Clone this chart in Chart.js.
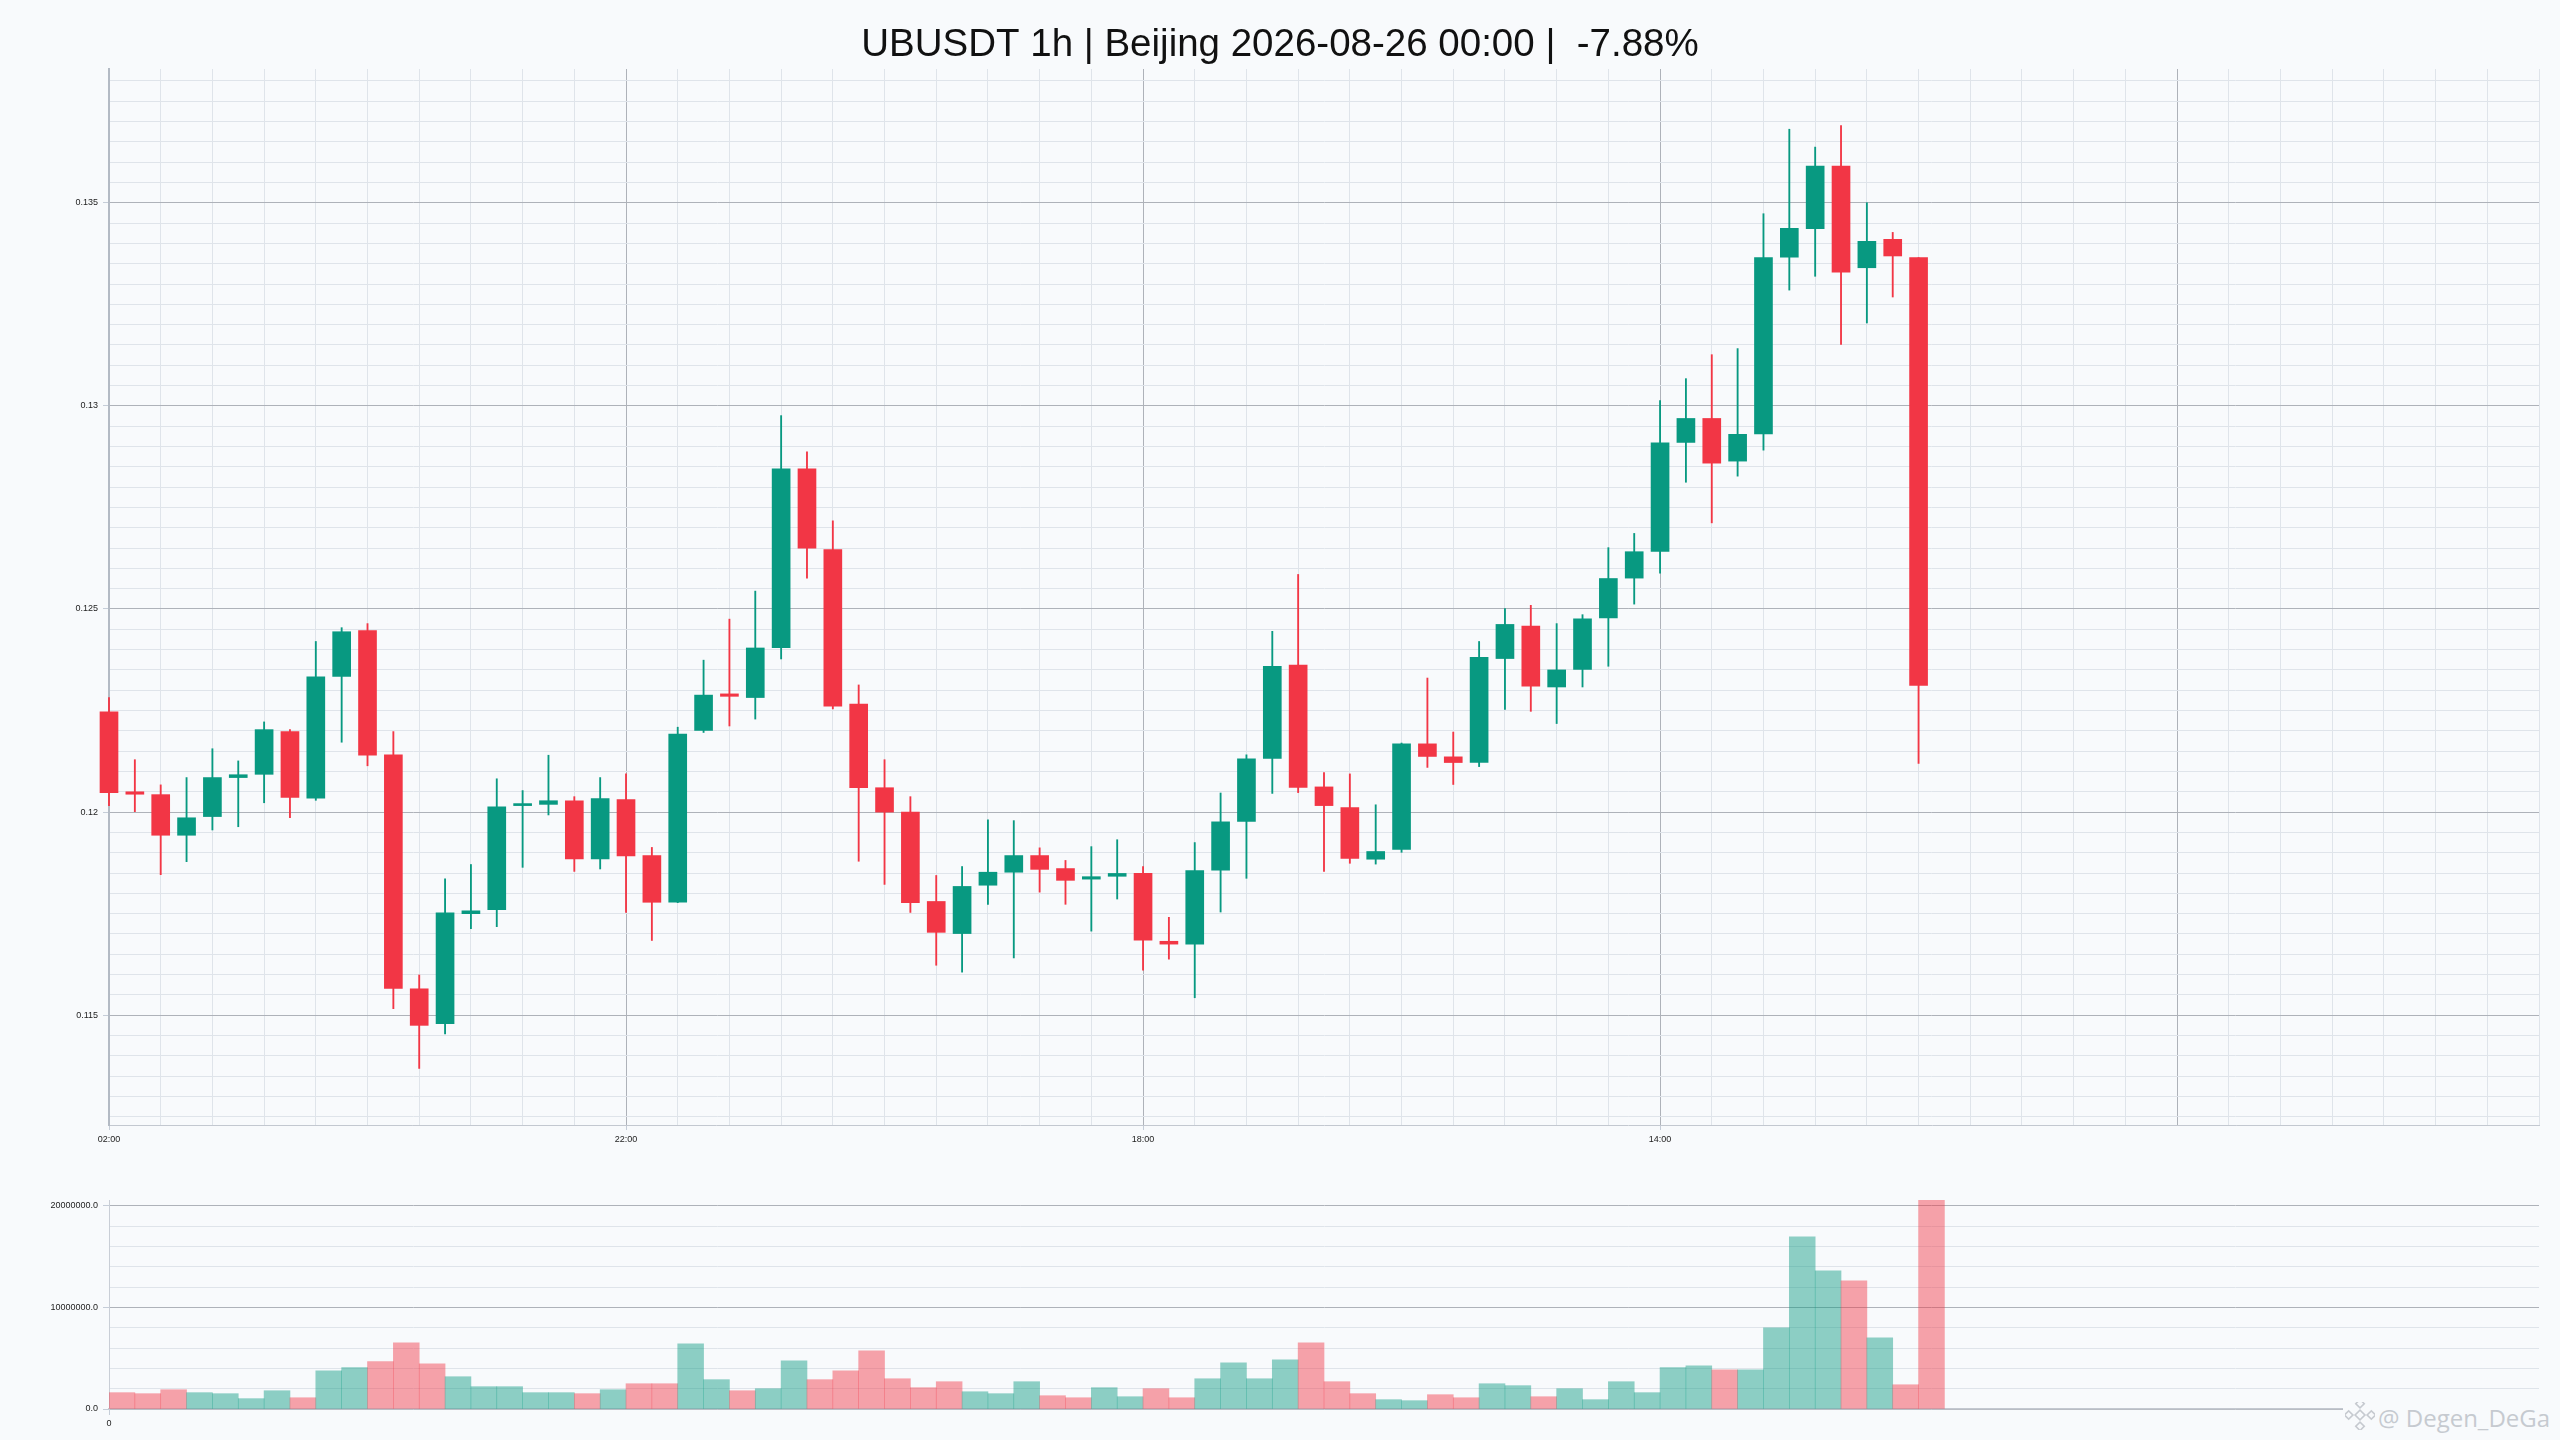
<!DOCTYPE html>
<html>
<head>
<meta charset="utf-8">
<script src="https://cdn.jsdelivr.net/npm/chart.js@4.4.1/dist/chart.umd.min.js"></script>
<style>
  html, body { margin:0; padding:0; background:#f8fafc; width:2560px; height:1440px; overflow:hidden; }
  #priceCanvas { position:absolute; left:0; top:0; }
  #volCanvas { position:absolute; left:0; top:1170px; }
  #wm { position:absolute; left:2343px; top:1402px; width:217px; height:38px; background:#f8fafc; overflow:hidden; white-space:nowrap; }
  #wm svg { position:absolute; left:2px; top:-2px; }
  #wm span { position:absolute; left:35px; top:1px; font-family:"Open Sans", "DejaVu Sans", sans-serif; font-size:24px; color:#c6cad0; line-height:30px; }
</style>
</head>
<body>
<canvas id="priceCanvas" width="2560" height="1160"></canvas>
<canvas id="volCanvas" width="2560" height="270"></canvas>
<div id="wm">
  <svg width="30" height="30" viewBox="0 0 30 30">
    <g fill="none" stroke="#c6cad0" stroke-width="1.6" transform="rotate(45 15 15)">
      <rect x="11.5" y="11.5" width="7" height="7"/>
      <rect x="4" y="4" width="6" height="6"/>
      <rect x="20" y="20" width="6" height="6"/>
      <rect x="20" y="4" width="6" height="6"/>
      <rect x="4" y="20" width="6" height="6"/>
    </g>
  </svg>
  <span>@ Degen_DeGa</span>
</div>
<script>
// ---------------- data ----------------
const TITLE = 'UBUSDT 1h | Beijing 2026-08-26 00:00 |  -7.88%';

const open = [
  0.12247,0.1205,0.12043,0.11943,0.11989,0.12085,0.12093,0.12198,0.12034,0.12334,
  0.12447,0.12141,0.11565,0.11479,0.1175,0.1176,0.12016,0.12019,0.12028,0.11885,
  0.12031,0.11893,0.11778,0.12201,0.12291,0.12282,0.12405,0.12845,0.12646,0.12266,
  0.1206,0.12,0.1178,0.11701,0.1182,0.11852,0.11893,0.11861,0.11835,0.11842,
  0.11849,0.11682,0.11675,0.11857,0.11977,0.12132,0.12362,0.12062,0.12011,0.11884,
  0.11908,0.12168,0.12136,0.12122,0.12378,0.12458,0.12308,0.12351,0.12478,0.12576,
  0.12642,0.1291,0.12969,0.12864,0.12931,0.13366,0.13436,0.1359,0.1334,0.1341,
  0.13365
];
const high = [
  0.12282,0.12129,0.12067,0.12085,0.12156,0.12126,0.12222,0.12203,0.1242,0.12454,
  0.12464,0.12198,0.11599,0.11836,0.11871,0.12082,0.12053,0.1214,0.12038,0.12085,
  0.12094,0.11913,0.12209,0.12374,0.12475,0.12544,0.12976,0.12887,0.12717,0.12313,
  0.12129,0.12038,0.11844,0.11866,0.11981,0.11979,0.11912,0.11881,0.11915,0.11932,
  0.11866,0.11741,0.11925,0.12047,0.12141,0.12445,0.12585,0.12097,0.12094,0.12018,
  0.1217,0.1233,0.12197,0.1242,0.12501,0.12509,0.12464,0.12486,0.12651,0.12686,
  0.13013,0.13067,0.13126,0.13141,0.13473,0.13681,0.13637,0.1369,0.135,0.13427,
  0.13365
];
const low = [
  0.12016,0.12001,0.11846,0.11878,0.11956,0.11964,0.12023,0.11986,0.12029,0.12172,
  0.12114,0.11516,0.11369,0.11454,0.11713,0.11718,0.11864,0.11993,0.11854,0.1186,
  0.11753,0.11684,0.11777,0.12196,0.12212,0.12229,0.12377,0.12576,0.12254,0.11879,
  0.11822,0.11753,0.11623,0.11606,0.11773,0.11641,0.11803,0.11773,0.11707,0.11786,
  0.11611,0.11638,0.11543,0.11754,0.11837,0.12046,0.12048,0.11854,0.11874,0.11872,
  0.11901,0.1211,0.12068,0.12112,0.12253,0.12248,0.12218,0.12308,0.12359,0.12512,
  0.12588,0.12812,0.12712,0.12827,0.12891,0.13285,0.13319,0.13151,0.13204,0.13268,
  0.1212
];
const close = [
  0.12048,0.12044,0.11943,0.11986,0.12085,0.12092,0.12203,0.12036,0.12333,0.12444,
  0.1214,0.11566,0.11475,0.11752,0.11757,0.12013,0.12019,0.12028,0.11885,0.12033,
  0.11892,0.11778,0.12192,0.12288,0.12285,0.12404,0.12845,0.1265,0.12261,0.1206,
  0.12,0.11777,0.11704,0.11817,0.11852,0.11893,0.11859,0.11832,0.11841,0.11849,
  0.11685,0.11675,0.11856,0.11976,0.12131,0.12359,0.12061,0.12016,0.11886,0.11903,
  0.12168,0.12137,0.12122,0.12381,0.12462,0.1231,0.1235,0.12476,0.12575,0.12641,
  0.12909,0.12969,0.12859,0.1293,0.13365,0.13437,0.1359,0.13329,0.13405,0.13369,
  0.12312
];
const volume = [
  1610000,1510000,1900000,1610000,1510000,1020000,1800000,1110000,3770000,4070000,
  4660000,6520000,4460000,3180000,2200000,2200000,1610000,1610000,1510000,1900000,
  2490000,2490000,6430000,2890000,1800000,2000000,4750000,2890000,3770000,5740000,
  2980000,2100000,2690000,1700000,1510000,2690000,1310000,1110000,2100000,1210000,
  2000000,1110000,2980000,4560000,2980000,4850000,6520000,2690000,1510000,920000,
  820000,1410000,1110000,2490000,2300000,1210000,2000000,920000,2690000,1610000,
  4070000,4260000,3870000,3870000,8000000,16950000,13600000,12620000,7020000,2390000,
  20590000
];

// tick labels
const xTickPositions = [0, 20, 40, 60];
const xTickLabels = ['02:00', '22:00', '18:00', '14:00'];
const priceTickValues = [0.115, 0.12, 0.125, 0.13, 0.135];
const priceTickLabels = ['0.115', '0.12', '0.125', '0.13', '0.135'];
const volTickValues = [0, 10000000, 20000000];
const volTickLabels = ['0.0', '10000000.0', '20000000.0'];

// ---------------- styling ----------------
const GREEN = '#089981', RED = '#F23645';
const GREEN_A = 'rgba(8,153,129,0.45)', RED_A = 'rgba(242,54,69,0.45)';
const MAJOR = '#aeb2b9', MINOR = '#dfe4ea', TICKC = '#c5cdd8', TXT = '#222';
const FONT = { family: "'Liberation Sans', Arial, sans-serif", size: 9 };
const X_SPAN = 94;          // hours shown on x axis
const X_STEP = 2, X_MAJOR = 20;

const idx = open.map((_, i) => i);
const up = idx.map(i => close[i] >= open[i]);
const candleColor = up.map(u => u ? GREEN : RED);
const volColor = up.map(u => u ? GREEN_A : RED_A);

const hiMax = Math.max(...high), loMin = Math.min(...low);
const padP = (hiMax - loMin) * 0.06;
const priceMin = loMin - padP, priceMax = hiMax + padP;
const volMax = Math.max(...volume);

const near = (a, b, eps) => Math.abs(a - b) < eps;

const xAxisPrice = {
  type: 'linear', min: 0, max: X_SPAN, offset: false,
  afterBuildTicks: s => { const t = []; for (let v = 0; v <= X_SPAN; v += X_STEP) t.push({ value: v }); s.ticks = t; },
  ticks: {
    autoSkip: false, maxRotation: 0, minRotation: 0, font: FONT, color: TXT, padding: 4,
    callback: v => { const k = xTickPositions.indexOf(v); return k >= 0 ? xTickLabels[k] : ''; }
  },
  grid: {
    offset: false, lineWidth: 1, tickLength: 5,
    color: c => (c.tick && c.tick.value % X_MAJOR === 0) ? MAJOR : MINOR,
    tickColor: c => (c.tick && xTickPositions.includes(c.tick.value)) ? TICKC : 'rgba(0,0,0,0)'
  },
  border: { color: '#c3c8d0', width: 1 },
  afterFit: s => { s.height = 30; }
};

new Chart(document.getElementById('priceCanvas'), {
  type: 'bar',
  data: {
    datasets: [
      {
        label: 'body',
        data: idx.map(i => ({ x: i, y: [open[i], close[i]] })),
        backgroundColor: candleColor, borderWidth: 0,
        barThickness: 18, grouped: false, clip: false, minBarLength: 2
      },
      {
        label: 'wick',
        data: idx.map(i => ({ x: i, y: [low[i], high[i]] })),
        backgroundColor: candleColor, borderWidth: 0,
        barThickness: 1.2, grouped: false, clip: false
      }
    ]
  },
  options: {
    responsive: false, animation: false, events: [],
    layout: { padding: { left: 21, right: 21, top: 0, bottom: 5 } },
    plugins: {
      legend: { display: false }, tooltip: { enabled: false },
      title: {
        display: true, text: TITLE, color: '#111',
        font: { family: "'Liberation Sans', Arial, sans-serif", size: 38.5, weight: 'normal' },
        padding: { top: 22.5, bottom: 0.3 }
      }
    },
    scales: {
      x: xAxisPrice,
      y: {
        type: 'linear', min: priceMin, max: priceMax,
        afterBuildTicks: s => {
          const t = [];
          for (let k = Math.ceil(priceMin / 0.0005); k * 0.0005 <= priceMax; k++) t.push({ value: Math.round(k * 5) / 10000 });
          s.ticks = t;
        },
        ticks: {
          font: FONT, color: TXT, padding: 5,
          callback: v => { const k = priceTickValues.findIndex(t => near(t, v, 1e-7)); return k >= 0 ? priceTickLabels[k] : ''; }
        },
        grid: {
          lineWidth: 1, tickLength: 6,
          color: c => (c.tick && priceTickValues.some(t => near(t, c.tick.value, 1e-7))) ? MAJOR : MINOR,
          tickColor: c => (c.tick && priceTickValues.some(t => near(t, c.tick.value, 1e-7))) ? TICKC : 'rgba(0,0,0,0)'
        },
        border: { color: '#b3bac4', width: 2 },
        afterFit: s => { s.width = 88; }
      }
    }
  }
});

new Chart(document.getElementById('volCanvas'), {
  type: 'bar',
  data: {
    datasets: [{
      label: 'volume',
      data: idx.map(i => ({ x: i + 0.5, y: volume[i] })),
      backgroundColor: volColor, borderWidth: 0,
      categoryPercentage: 1, barPercentage: 1, grouped: false
    }]
  },
  options: {
    responsive: false, animation: false, events: [],
    layout: { padding: { left: 9, right: 21, top: 30, bottom: 5 } },
    plugins: { legend: { display: false }, tooltip: { enabled: false }, title: { display: false } },
    scales: {
      x: {
        type: 'linear', min: 0, max: X_SPAN, offset: false,
        afterBuildTicks: s => { s.ticks = [{ value: 0 }]; },
        ticks: { autoSkip: false, maxRotation: 0, font: FONT, color: TXT, padding: 3, callback: v => (v === 0 ? '0' : '') },
        grid: { offset: false, drawOnChartArea: false, tickLength: 6, tickColor: TICKC },
        border: { color: '#c3c8d0', width: 1.5 },
        afterFit: s => { s.height = 26; }
      },
      y: {
        type: 'linear', min: 0, max: volMax,
        afterBuildTicks: s => { const t = []; for (let v = 0; v <= volMax; v += 1000000) t.push({ value: v }); s.ticks = t; },
        ticks: {
          font: FONT, color: TXT, padding: 5,
          callback: v => { const k = volTickValues.indexOf(v); return k >= 0 ? volTickLabels[k] : ''; }
        },
        grid: {
          lineWidth: 1, tickLength: 6,
          color: c => (c.tick && volTickValues.includes(c.tick.value)) ? MAJOR : MINOR,
          tickColor: c => (c.tick && volTickValues.includes(c.tick.value)) ? TICKC : 'rgba(0,0,0,0)'
        },
        border: { color: '#c9ced6', width: 1 },
        afterFit: s => { s.width = 100; }
      }
    }
  }
});
</script>
</body>
</html>
